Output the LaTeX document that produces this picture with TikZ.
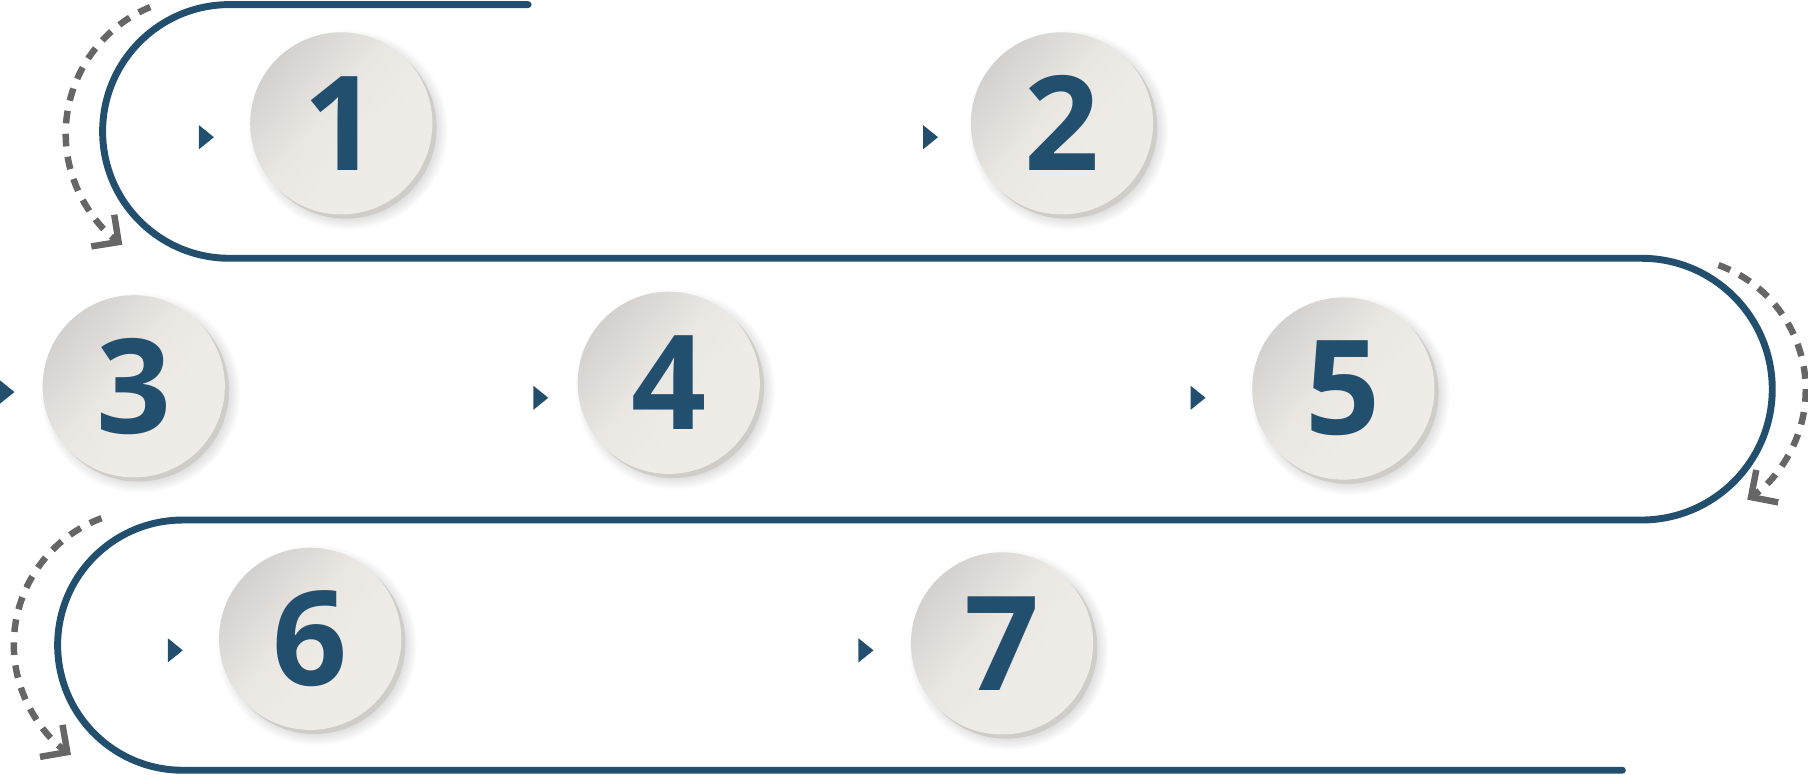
\documentclass[tikz,border=0pt]{standalone}
\usepackage{fontspec}
\setsansfont{Open Sans}
\usepackage{tikz}
\usetikzlibrary{arrows.meta,shadows}
\definecolor{trackblue}{HTML}{234F6E}
\definecolor{dashgray}{HTML}{666666}
\definecolor{facedark}{HTML}{D3D0CD}
\definecolor{facemid}{HTML}{EAE7E3}
\definecolor{facelight}{HTML}{EFECE8}
\definecolor{rimgray}{HTML}{D0CCC8}
\pgfdeclarehorizontalshading{discshade}{100bp}{color(0bp)=(facedark); color(25bp)=(facedark);
  color(45bp)=(facemid); color(60bp)=(facelight); color(100bp)=(facelight)}

\begin{document}
\begin{tikzpicture}[x=0.5pt,y=-0.5pt,line cap=round,
                    track/.style={draw=trackblue,line width=3pt},
                    turn/.style={draw=dashgray,line width=2.8pt,line cap=butt,
                      dash pattern=on 5.5pt off 4.5pt,
                      -{Straight Barb[angle=90:12pt,line cap=butt]}},
                    marker/.pic={\fill[trackblue] (-6.5,-10.5) -- (6.5,0) -- (-6.5,10.5) -- cycle;}]
  \tikzstyle{disc}=[circle,minimum size=79pt,inner sep=0pt,
    shading=discshade,shading angle=-40,
    circular drop shadow={shadow xshift=2.5pt,shadow yshift=-2.5pt,opacity=0.3},
    general shadow={fill=rimgray,shadow xshift=1.8pt,shadow yshift=-1.8pt},
    text=trackblue,font=\sffamily\bfseries\fontsize{57}{57}\selectfont]
  \useasboundingbox (0,0) rectangle (1568,672);

  % the winding track
  \draw[track] (458,4) -- (199,4) arc[start angle=-90,end angle=-270,radius=110]
    -- (1423.5,224) arc[start angle=-90,end angle=90,radius=113.5]
    -- (158.5,451) arc[start angle=-90,end angle=-270,radius=108.5]
    -- (1407,668);

  % dashed turn arrows
  \coordinate (c1) at (176,116);
  \coordinate (c2) at (1451,338);
  \coordinate (c3) at (129,559);
  \draw[turn] (c1) ++(-112.6:119) arc[start angle=-112.6,end angle=-234,radius=119];
  \draw[turn] (c2) ++(-70:115) arc[start angle=-70,end angle=56,radius=115];
  \draw[turn] (c3) ++(-110.5:117) arc[start angle=-110.5,end angle=-234.8,radius=117];

  % steps
  \node[disc] (s1) at (296,107) {1};
  \node[disc] (s2) at (921,107) {2};
  \node[disc] (s3) at (116,335) {3};
  \node[disc] (s4) at (580,332) {4};
  \node[disc] (s5) at (1165,337) {5};
  \node[disc] (s6) at (269,554) {6};
  \node[disc] (s7) at (869,558) {7};

  \pic at (179,119) {marker};
  \pic at (807,119) {marker};
  \pic at (6,340) {marker};
  \pic at (469,345) {marker};
  \pic at (1039,345) {marker};
  \pic at (152,564) {marker};
  \pic at (751,564) {marker};
\end{tikzpicture}
\end{document}
